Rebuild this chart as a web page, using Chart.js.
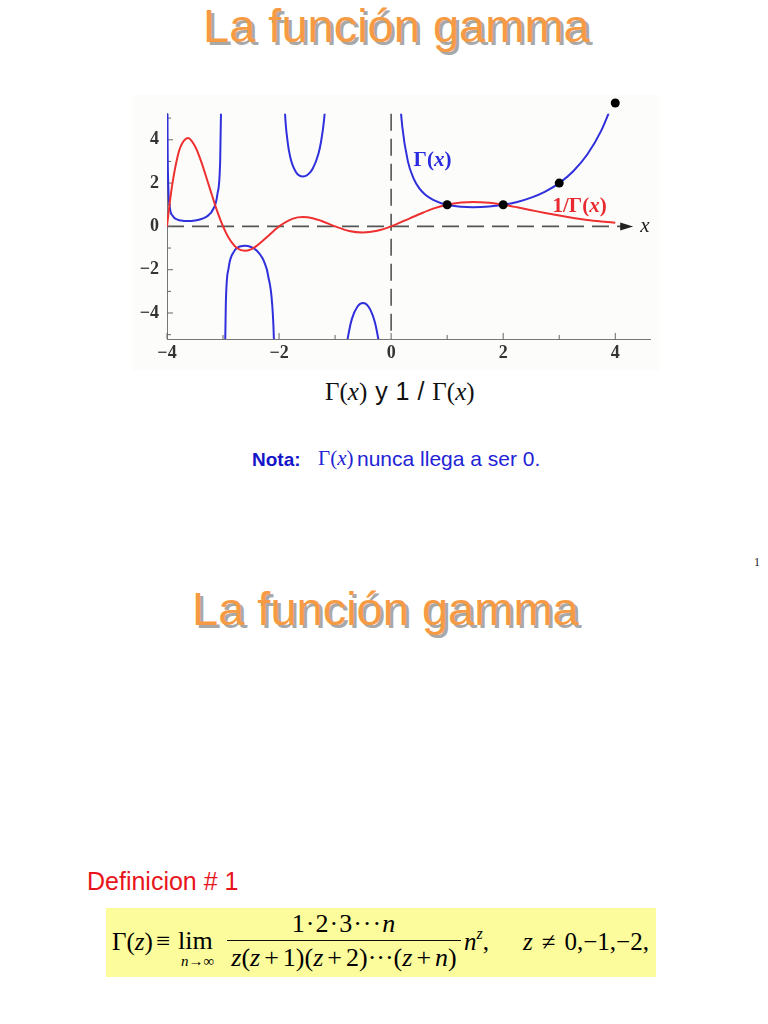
<!DOCTYPE html>
<html>
<head>
<meta charset="utf-8">
<title>La función gamma</title>
<script src="https://cdn.jsdelivr.net/npm/chart.js@4.4.1/dist/chart.umd.min.js"></script>
<style>
  html, body { margin: 0; padding: 0; background: #fff; }
  #page { position: relative; width: 768px; height: 1024px; overflow: hidden; }
  .abs { position: absolute; white-space: nowrap; }
  .sans { font-family: "Liberation Sans", Arial, sans-serif; }
  .serif { font-family: "Liberation Serif", "Times New Roman", serif; }
  .it { font-style: italic; }
  .title { font-size: 47px; line-height: 47px; color: #f79a44; text-shadow: 3px 3px 0 #a8a8a8; }
  #chartBox { position: absolute; left: 132px; top: 95px; width: 528px; height: 275px; background: #fcfcfb; }
  .blue { color: #2323d6; }
  .op { margin: 0 4px; }
  .rel { margin: 0 9px; }
  #fracLine { position: absolute; left: 227px; top: 940px; width: 234px; height: 1.4px; background: #111; }
  #yellow { position: absolute; left: 106px; top: 908px; width: 550px; height: 69px; background: #fcfc9c; }
</style>
</head>
<body>
<div id="page">
  <div class="abs sans title" style="left:203px; top:2px;">La función gamma</div>

  <div id="chartBox"><canvas id="gammaChart" width="528" height="275"></canvas></div>

  <div class="abs sans" style="left:325px; top:379px; font-size:25px; line-height:25px; color:#111; word-spacing:1px;">
    <span class="serif">Γ(<span class="it">x</span>)</span> y 1 / <span class="serif">Γ(<span class="it">x</span>)</span>
  </div>

  <div class="abs sans" style="left:252px; top:450px; font-size:19px; line-height:19px; font-weight:bold; color:#1414c8;">Nota:</div>
  <div class="abs serif blue" style="left:318px; top:448px; font-size:21px; line-height:21px;">Γ(<span class="it">x</span>)</div>
  <div class="abs sans blue" style="left:357px; top:448px; font-size:21px; line-height:21px;">nunca llega a ser 0.</div>

  <div class="abs serif" style="left:754px; top:556px; font-size:12px; line-height:12px; color:#222;">1</div>

  <div class="abs sans title" style="left:192px; top:585px;">La función gamma</div>

  <div class="abs sans" style="left:87px; top:869px; font-size:25px; line-height:25px; color:#e8141c;">Definicion # 1</div>

  <div id="yellow"></div>
  <div class="abs serif" style="left:112px; top:929px; font-size:25px; line-height:25px;">Γ(<span class="it">z</span>)</div>
  <div class="abs serif" style="left:156px; top:928px; font-size:25px; line-height:25px;">≡</div>
  <div class="abs serif" style="left:178px; top:928px; font-size:26px; line-height:26px;">lim</div>
  <div class="abs serif" style="left:181px; top:954px; font-size:15px; line-height:15px;"><span class="it">n</span>→∞</div>
  <div class="abs serif" style="left:227px; top:911px; width:234px; text-align:center; font-size:26px; line-height:26px; letter-spacing:1px;">1·2·3···<span class="it">n</span></div>
  <div id="fracLine"></div>
  <div class="abs serif" style="left:227px; top:945px; width:234px; text-align:center; font-size:26px; line-height:26px;"><span class="it">z</span>(<span class="it">z</span><span class="op">+</span>1)(<span class="it">z</span><span class="op">+</span>2)···(<span class="it">z</span><span class="op">+</span><span class="it">n</span>)</div>
  <div class="abs serif" style="left:464px; top:929px; font-size:25px; line-height:25px;"><span class="it">n</span><span class="it" style="position:relative; top:-11px; font-size:16px;">z</span>,</div>
  <div class="abs serif" style="left:523px; top:929px; font-size:25px; line-height:25px;"><span class="it">z</span><span class="rel">≠</span>0,−1,−2,</div>
</div>

<script>
// axis ticks
const xTicks = [-4, -2, 0, 2, 4];
const yTicks = [-4, -2, 0, 2, 4];
const xMinorTicks = [-4, -3, -2, -1, 0, 1, 2, 3, 4];
const yMinorTicks = [-5, -4, -3, -2, -1, 0, 1, 2, 3, 4, 5];
const arrowEnd = 4.32;

// Gamma(x); null marks the poles at 0, -1, -2, -3
const gammaX = [
  -3.995, -3.99, -3.98, -3.95, -3.9, -3.8, -3.75, -3.635, -3.5, -3.4, -3.3, -3.25, -3.2, -3.1, -3.05, -3.02, -3,
  -2.98, -2.95, -2.9, -2.8, -2.75, -2.7, -2.61, -2.5, -2.4, -2.3, -2.25, -2.2, -2.1, -2.05, -2,
  -1.98, -1.95, -1.9, -1.85, -1.8, -1.7, -1.573, -1.5, -1.4, -1.3, -1.25, -1.2, -1.15, -1.1, -1,
  -0.95, -0.9, -0.8, -0.75, -0.7, -0.6, -0.504, -0.4, -0.3, -0.25, -0.2, -0.1, -0.05, 0,
  0.05, 0.1, 0.15, 0.2, 0.3, 0.4, 0.5, 0.6, 0.75, 1, 1.25, 1.46, 1.75, 2, 2.25, 2.5, 2.75, 3, 3.25, 3.5, 3.75, 4
];
const gammaY = [
  8.4, 4.23, 2.15, 0.9, 0.49, 0.3, 0.27, 0.245, 0.27, 0.33, 0.44, 0.54, 0.69, 1.49, 3.14, 8.13, null,
  -8.55, -3.56, -1.92, -1.14, -1.0, -0.93, -0.89, -0.95, -1.11, -1.45, -1.74, -2.21, -4.63, -9.58, null,
  25.5, 10.5, 5.56, 3.96, 3.19, 2.51, 2.3, 2.36, 2.66, 3.33, 3.92, 4.85, 6.45, 9.71, null,
  -20.5, -10.6, -5.74, -4.83, -4.27, -3.7, -3.54, -3.72, -4.33, -4.9, -5.82, -10.7, -20.6, null,
  19.5, 9.51, 6.22, 4.59, 2.99, 2.22, 1.77, 1.49, 1.23, 1, 0.91, 0.89, 0.92, 1, 1.13, 1.33, 1.61, 2, 2.55, 3.32, 4.42, 6
];

// 1/Gamma(x)
const invGammaX = [
  -4, -3.95, -3.9, -3.8, -3.75, -3.625, -3.5, -3.4, -3.25, -3.1,
  -3, -2.9, -2.75, -2.61, -2.5, -2.4, -2.25, -2.1,
  -2, -1.75, -1.573, -1.4, -1.25,
  -1, -0.75, -0.504, -0.25,
  0, 0.25, 0.5, 0.75,
  1, 1.25, 1.46, 1.75,
  2, 2.25, 2.5, 2.75,
  3, 3.25, 3.5, 3.75, 4
];
const invGammaY = [
  0, 1.11, 2.03, 3.34, 3.73, 4.08, 3.7, 3.07, 1.87, 0.67,
  0, -0.52, -1.0, -1.13, -1.06, -0.9, -0.57, -0.22,
  0, 0.36, 0.43, 0.38, 0.26,
  0, -0.21, -0.28, -0.2,
  0, 0.28, 0.56, 0.82,
  1, 1.1, 1.13, 1.09,
  1, 0.88, 0.75, 0.62,
  0.5, 0.39, 0.3, 0.23, 0.17
];

// marked points (n-1)!
const dotX = [1, 2, 3, 4];
const dotY = [1, 1, 2, 5.7];

const toPoints = (xs, ys) => xs.map((x, i) => ({ x: x, y: ys[i] }));

const serif = '"Liberation Serif", "Times New Roman", serif';

function drawRich(ctx, parts, x, y) {
  // parts: [text, font] pairs drawn one after another on one baseline
  let cx = x;
  parts.forEach(([text, font]) => {
    ctx.font = font;
    ctx.fillText(text, cx, y);
    cx += ctx.measureText(text).width;
  });
}

const gammaDecor = {
  id: "gammaDecor",
  beforeDatasetsDraw(chart) {
    const { ctx, chartArea: a, scales: { x, y } } = chart;
    const x0 = x.getPixelForValue(0);
    const y0 = y.getPixelForValue(0);
    const tip = x.getPixelForValue(arrowEnd);

    ctx.save();
    // dashed zero lines
    ctx.strokeStyle = "#555";
    ctx.lineWidth = 1.6;
    ctx.setLineDash([17, 8]);
    ctx.beginPath();
    ctx.moveTo(a.left, y0);
    ctx.lineTo(tip - 10, y0);
    ctx.stroke();
    ctx.beginPath();
    ctx.moveTo(x0, a.top);
    ctx.lineTo(x0, a.bottom);
    ctx.stroke();
    ctx.setLineDash([]);

    // arrow head on the x axis
    ctx.fillStyle = "#222";
    ctx.beginPath();
    ctx.moveTo(tip, y0);
    ctx.lineTo(tip - 13, y0 - 4);
    ctx.lineTo(tip - 13, y0 + 4);
    ctx.closePath();
    ctx.fill();

    // inward tick marks on the frame
    ctx.strokeStyle = "#666";
    ctx.lineWidth = 1;
    ctx.beginPath();
    xMinorTicks.forEach((v) => {
      const px = x.getPixelForValue(v);
      const len = xTicks.includes(v) ? 6 : 4;
      ctx.moveTo(px, a.bottom);
      ctx.lineTo(px, a.bottom - len);
    });
    yMinorTicks.forEach((v) => {
      const py = y.getPixelForValue(v);
      const len = yTicks.includes(v) ? 6 : 4;
      ctx.moveTo(a.left, py);
      ctx.lineTo(a.left + len, py);
    });
    ctx.stroke();
    ctx.restore();
  },
  afterDatasetsDraw(chart) {
    const { ctx, chartArea: a, scales: { x, y } } = chart;
    const y0 = y.getPixelForValue(0);
    const tip = x.getPixelForValue(arrowEnd);
    ctx.save();

    // Chart.js skips points outside the chart area; draw those dots here
    chart.getDatasetMeta(0).data.forEach((pt) => {
      if (pt.y < a.top || pt.y > a.bottom) {
        ctx.fillStyle = "#000";
        ctx.beginPath();
        ctx.arc(pt.x, pt.y, 4.5, 0, Math.PI * 2);
        ctx.fill();
      }
    });

    ctx.textBaseline = "alphabetic";
    ctx.textAlign = "left";

    ctx.fillStyle = "#222";
    ctx.font = "italic 21px " + serif;
    ctx.fillText("x", tip + 7, y0 + 6);

    ctx.fillStyle = "#2a2ae0";
    drawRich(ctx, [
      ["Γ(", "bold 21px " + serif],
      ["x", "bold italic 21px " + serif],
      [")", "bold 21px " + serif],
    ], x.getPixelForValue(0.4), y.getPixelForValue(2.8));

    ctx.fillStyle = "#e82a30";
    drawRich(ctx, [
      ["1/Γ(", "bold 21px " + serif],
      ["x", "bold italic 21px " + serif],
      [")", "bold 21px " + serif],
    ], x.getPixelForValue(2.88), y.getPixelForValue(0.68));
    ctx.restore();
  },
};

const minusLabel = (v) => (v < 0 ? "\u2212" + Math.abs(v) : String(v));

const config = {
  type: "scatter",
  data: {
    datasets: [
      {
        label: "(n-1)!",
        data: toPoints(dotX, dotY),
        showLine: false,
        pointRadius: 4.5,
        pointBackgroundColor: "#000",
        pointBorderWidth: 0,
        clip: false,
      },
      {
        label: "1/Γ(x)",
        data: toPoints(invGammaX, invGammaY),
        showLine: true,
        borderColor: "#ee3030",
        borderWidth: 2,
        pointRadius: 0,
        cubicInterpolationMode: "monotone",
      },
      {
        label: "Γ(x)",
        data: toPoints(gammaX, gammaY),
        showLine: true,
        spanGaps: false,
        borderColor: "#2f2fdc",
        borderWidth: 2,
        pointRadius: 0,
        cubicInterpolationMode: "monotone",
      },
    ],
  },
  options: {
    responsive: false,
    animation: false,
    events: [],
    layout: { padding: { top: 14, right: 10, left: 0, bottom: 0 } },
    elements: { line: { capBezierPoints: false } },
    plugins: { legend: { display: false }, tooltip: { enabled: false } },
    scales: {
      x: {
        type: "linear",
        min: -4,
        max: 4.62,
        afterFit: (scale) => { scale.height = 31; },
        afterBuildTicks: (scale) => { scale.ticks = xTicks.map((v) => ({ value: v })); },
        grid: { display: true, drawOnChartArea: false, drawTicks: false },
        border: { display: true, color: "#777", width: 1 },
        ticks: {
          padding: 4,
          color: "#333",
          font: { family: serif, size: 18, weight: "bold" },
          callback: minusLabel,
        },
      },
      y: {
        type: "linear",
        min: -5.2,
        max: 5.2,
        afterFit: (scale) => { scale.width = 35; },
        afterBuildTicks: (scale) => { scale.ticks = yTicks.map((v) => ({ value: v })); },
        grid: { display: true, drawOnChartArea: false, drawTicks: false },
        border: { display: true, color: "#777", width: 1 },
        ticks: {
          padding: 8,
          color: "#333",
          font: { family: serif, size: 18, weight: "bold" },
          callback: minusLabel,
        },
      },
    },
  },
  plugins: [gammaDecor],
};

const ctx = document.getElementById("gammaChart");
const gammaChart = new Chart(ctx, config);
</script>
</body>
</html>
